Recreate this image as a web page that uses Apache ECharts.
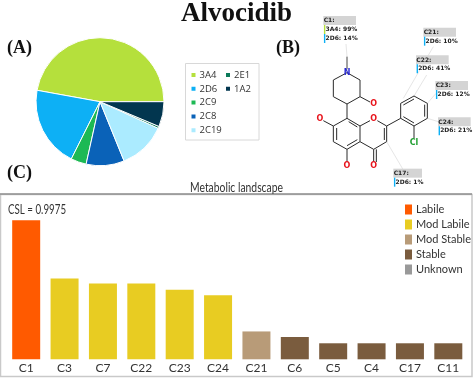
<!DOCTYPE html>
<html><head><meta charset="utf-8">
<style>html,body{margin:0;padding:0;background:#fff}#c{width:474px;height:378px}</style>
<script src="https://cdn.jsdelivr.net/npm/echarts@6/dist/echarts.min.js"></script>
</head><body><div id="c"></div>
<script>
const pieNames = ['3A4','2D6','2C9','2C8','2C19','2E1','1A2'];
const pieValues = [47,20.4,3.9,9.6,12,0.5,6.3];
const pieColors = ['#B5E03C','#0DB0F5','#1DB954','#0A62B8','#ABEBFF','#0B7A5A','#02364F'];
const categories = ['C1','C3','C7','C22','C23','C24','C21','C6','C5','C4','C17','C11'];
const labile     = [0.9975,null,null,null,null,null,null,null,null,null,null,null];
const modLabile  = [null,0.58,0.545,0.545,0.5,0.46,null,null,null,null,null,null];
const modStable  = [null,null,null,null,null,null,0.2,null,null,null,null,null];
const stable     = [null,null,null,null,null,null,null,0.16,0.115,0.115,0.115,0.115];
const unknown    = [null,null,null,null,null,null,null,null,null,null,null,null];
const narrow = 'Lato,"Liberation Sans",sans-serif';

const P = (X,Y)=>[270+X/3,Y/3];
const line = (a,b,color,w,z)=>{const s=P(a[0],a[1]),e=P(b[0],b[1]);return {type:'line',z:z||5,shape:{x1:s[0],y1:s[1],x2:e[0],y2:e[1]},style:{stroke:color||'#222',lineWidth:w||1}}};
const atom = (t,X,Y,c)=>{const p=P(X,Y);return {type:'text',z:6,x:p[0],y:p[1],style:{text:t,fill:c,font:'bold 8px "DejaVu Sans"',align:'center',verticalAlign:'middle'}}};
const rect = (x,y,w,h,fill,z)=>({type:'rect',z:z||3,shape:{x,y,width:w,height:h},style:{fill}});
const bonds = [
 [[231,218],[270,240]],[[270,240],[270,290]],[[270,290],[231,312]],[[231,312],[190,290]],[[190,290],[190,240]],[[190,240],[231,218]],
 [[270,290],[300,306]],[[231,312],[231,355]],
 [[231,355],[270,378]],[[270,378],[270,425]],[[270,425],[231,448]],[[231,448],[190,425]],[[190,425],[190,378]],[[190,378],[231,355]],
 [[190,378],[160,362]],[[231,448],[231,486]],
 [[270,378],[300,362]],[[322,362],[350,378]],[[350,378],[350,425]],[[350,425],[311,448]],[[311,448],[270,425]],
 [[311,448],[311,486]],[[319,448],[319,486]],
 [[350,378],[392,355]],[[392,355],[392,310]],[[392,310],[432,288]],[[432,288],[472,310]],[[472,310],[472,355]],[[472,355],[432,378]],[[432,378],[392,355]],
 [[432,378],[432,415]],
 [[200,384],[200,420]],[[231,437],[262,419]],[[236,365],[262,381]],[[343,384],[343,420]],
 [[400,315],[432,297]],[[464,314],[464,350]],[[400,350],[432,369]]
];
const guides = [[[228,132],[231,170]],[[490,140],[400,295]],[[470,225],[432,288]],[[498,280],[472,310]],[[505,365],[472,355]],[[400,510],[350,425]]];
const notes = [
 {X:160,Y:48,W:98,title:'C1:',rows:[['3A4: 99%','#B5E03C'],['2D6: 14%','#0DB0F5']]},
 {X:460,Y:83,W:98,title:'C21:',rows:[['2D6: 10%','#0DB0F5']]},
 {X:438,Y:166,W:98,title:'C22:',rows:[['2D6: 41%','#0DB0F5']]},
 {X:496,Y:243,W:98,title:'C23:',rows:[['2D6: 12%','#0DB0F5']]},
 {X:504,Y:352,W:98,title:'C24:',rows:[['2D6: 21%','#0DB0F5']]},
 {X:370,Y:506,W:86,title:'C17:',rows:[['2D6: 1%','#0DB0F5']]}
];
const gfx = [];
gfx.push(rect(185,63,74,77,'#fff',1));
gfx.push({type:'rect',z:1,shape:{x:185.5,y:63.5,width:73.5,height:76.5},style:{fill:'none',stroke:'#d8d8d8',lineWidth:1}});
gfx.push({type:'rect',z:1,shape:{x:0.5,y:194.5,width:471.5,height:182},style:{fill:'none',stroke:'#c9c9c9',lineWidth:1.5}});
gfx.push(rect(0,193.2,472,1.6,'#8e8e8e',2));
guides.forEach(g=>gfx.push(line(g[0],g[1],'#e6e6e6',1,2)));
bonds.forEach(b=>gfx.push(line(b[0],b[1],'#2a2a2a',1)));
gfx.push(line([231,170],[231,208],'#444',1));
[['N',231,218,'#2a2ad0'],['O',311,312,'#e8141c'],['O',150,358,'#e8141c'],['O',311,357,'#e8141c'],['O',231,498,'#e8141c'],['O',311,498,'#e8141c'],['Cl',432,428,'#1f9e2f']].forEach(a=>gfx.push(atom(a[0],a[1],a[2],a[3])));
notes.forEach(n=>{
  const p=P(n.X,n.Y);
  gfx.push(rect(p[0],p[1],n.W/3,9,'#d4d4d4',3));
  gfx.push({type:'text',z:6,x:p[0]+0.3,y:p[1]+4.8,style:{text:n.title,fill:'#222',font:'bold 6px "DejaVu Sans"',verticalAlign:'middle'}});
  n.rows.forEach((r,i)=>{
    const y=p[1]+9+i*9;
    gfx.push(rect(p[0]+0.6,y,1.4,9,r[1],4));
    gfx.push({type:'text',z:6,x:p[0]+2.2,y:y+4.6,style:{text:r[0],fill:'#222',font:'bold 6px "DejaVu Sans"',verticalAlign:'middle'}});
  });
});
gfx.push({type:'text',z:6,x:8,y:210,scaleX:0.75,style:{text:'CSL = 0.9975',fill:'#333',font:'13px '+narrow,verticalAlign:'middle'}});
gfx.push({type:'text',z:6,x:190,y:187.5,scaleX:0.74,style:{text:'Metabolic landscape',fill:'#333',font:'14px '+narrow,verticalAlign:'middle'}});

const head = (text,x,y,size)=>({text,left:x,top:y,padding:0,textStyle:{fontFamily:'"Liberation Serif"',fontWeight:'bold',fontSize:size,color:'#111'}});
const barSeries = (name,data,color)=>({name,type:'bar',stack:'m',data,barWidth:28,itemStyle:{color},xAxisIndex:0,yAxisIndex:0});

const chart = echarts.init(document.getElementById('c'),null,{renderer:'canvas'});
chart.setOption({
  animation:false,
  backgroundColor:'#fff',
  title:[
    head('Alvocidib',181,1,27),head('(A)',7,39,18),head('(B)',276,39,18),head('(C)',7,164,18)
  ],
  grid:{left:7,right:6.5,top:220,bottom:18.7,containLabel:false},
  xAxis:{type:'category',data:categories,axisLine:{show:false},axisTick:{show:false},
    axisLabel:{interval:0,margin:3,fontFamily:narrow,fontSize:12,color:'#333'}},
  yAxis:{type:'value',min:0,max:1,show:false},
  legend:[
    {data:pieNames.slice(0,5),orient:'vertical',left:189.5,top:70,itemWidth:6,itemHeight:6,itemGap:3.8,padding:0,icon:'rect',
      textStyle:{fontSize:9.5,color:'#333',fontFamily:'"Open Sans"',padding:[0,0,0,-2]}},
    {data:pieNames.slice(5),orient:'vertical',left:224,top:70,itemWidth:6,itemHeight:6,itemGap:3.8,padding:0,icon:'rect',
      textStyle:{fontSize:9.5,color:'#333',fontFamily:'"Open Sans"',padding:[0,0,0,-2]}},
    {data:['Labile','Mod Labile','Mod Stable','Stable','Unknown'],orient:'vertical',left:405,top:204,itemWidth:7,itemHeight:10,itemGap:4,padding:0,icon:'rect',
      textStyle:{fontSize:11,color:'#333',fontFamily:narrow,padding:[0,0,0,-1]}}
  ],
  series:[
    {type:'pie',center:[100,101.7],radius:[0,64],startAngle:0,clockwise:false,label:{show:false},labelLine:{show:false},silent:true,
      data:pieNames.map((name,i)=>({name,value:pieValues[i],itemStyle:{color:pieColors[i],borderColor:'#fff',borderWidth:1}}))},
    barSeries('Labile',labile,'#FF5A00'),
    barSeries('Mod Labile',modLabile,'#E8CC22'),
    barSeries('Mod Stable',modStable,'#B89B78'),
    barSeries('Stable',stable,'#7A5C3E'),
    barSeries('Unknown',unknown,'#999999')
  ],
  graphic:{elements:gfx}
});
</script></body></html>
